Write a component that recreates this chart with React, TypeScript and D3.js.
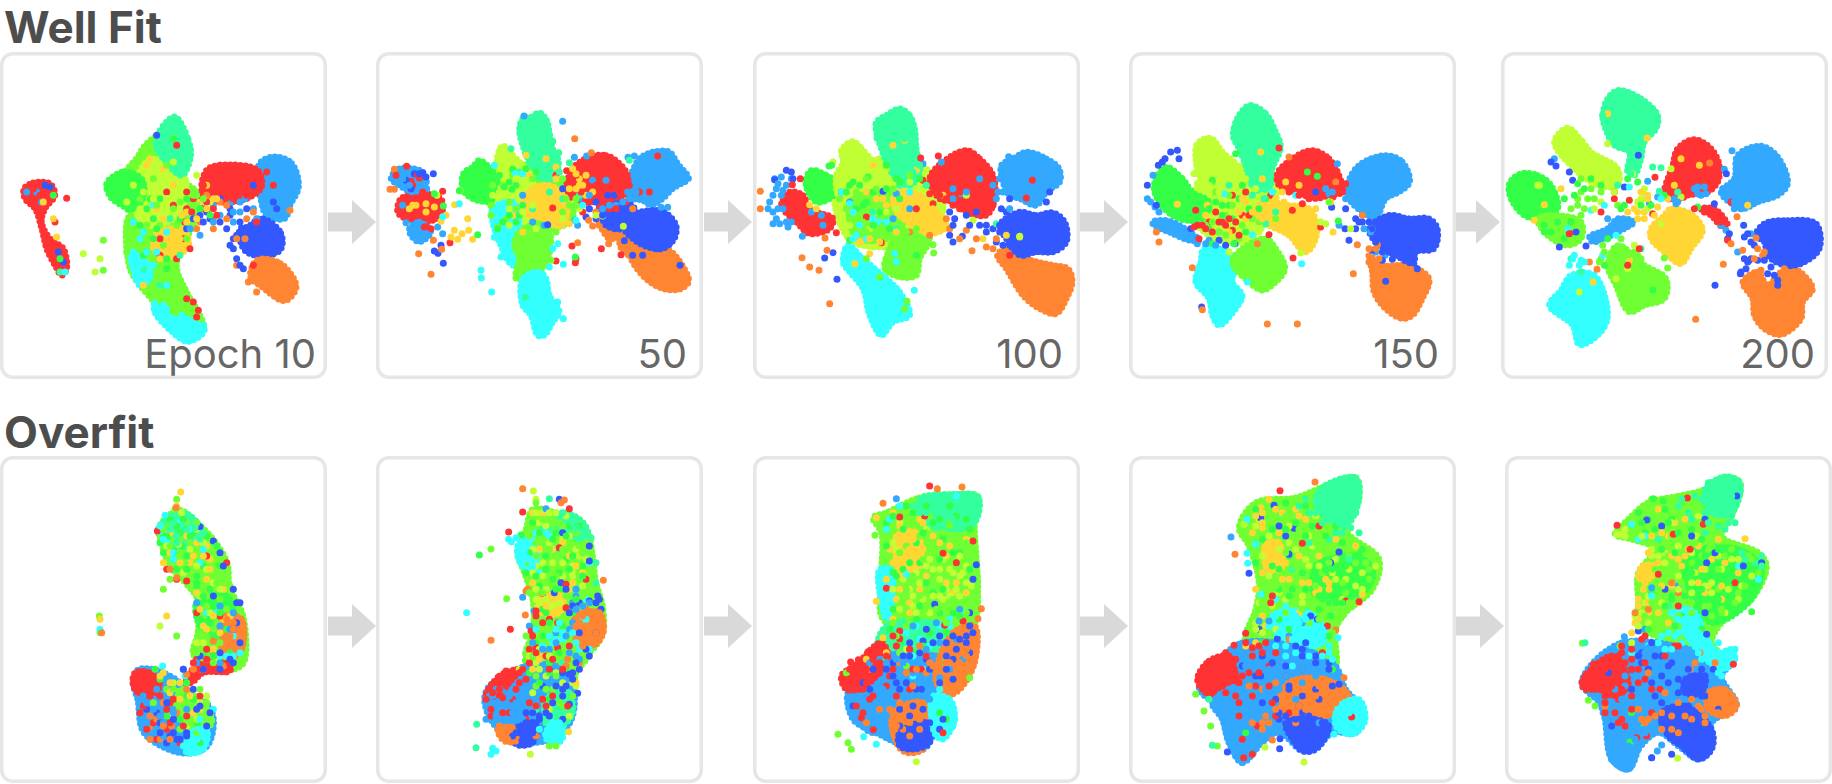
import React from "react";
import * as d3 from "d3";

// class colours
const classColors = ["#ff3333","#ff8533","#ffd633","#bfff33","#6fff33","#33ff47","#33ff9e","#33ffff","#33a8ff","#3358ff"];
const [R,O,G,Y,L,N,S,C,K,B] = [0,1,2,3,4,5,6,7,8,9];

const rowTitles = ["Well Fit","Overfit"];
const wellFitLabels = ["Epoch 10","50","100","150","200"];
const overfitLabels = ["","","","",""];
const labelRight = [316,311,310,310,314];
const rowTops = [52,456];
const rowLefts = [[0,376,753,1129,1501],[0,376,753,1129,1505]];
const arrowStarts = [[328,704,1080,1456],[328,704,1080,1456]];
const arrowTips = [[376,752,1128,1500],[376,752,1128,1504]];

// Outlines of the dense clusters, and the scattered points (panel units 0-981)
const wf10Blobs = [
 [R,[72,410,100,392,150,395,165,430,135,470,125,510,150,560,190,590,200,650,185,670,165,640,140,590,125,530,105,470,75,440]],
 [L,[441,274,500,240,530,294,551,384,600,430,592,490,560,560,530,640,560,720,600,790,612,835,560,860,510,830,470,760,420,700,390,650,380,510,400,464,372,374,413,314]],
 [Y,[440,330,530,330,560,420,520,500,440,520,400,450]],
 [S,[524,194,565,264,572,314,545,370,490,320,469,284,475,244]],
 [K,[827,314,875,334,896,404,870,460,854,500,800,490,785,454,779,334]],
 [R,[620,354,661,339,772,354,785,404,740,440,660,450,634,434,606,414]],
 [B,[785,499,843,544,841,594,785,612,740,600,723,574,720,530,744,524]],
 [O,[772,624,841,634,889,704,860,745,841,744,785,704,751,674]],
 [N,[320,394,372,359,427,384,427,444,390,474,372,464,331,434]],
 [C,[469,744,551,794,613,834,565,869,510,834,462,774]],
 [C,[393,604,441,634,450,680,420,700,400,654]],
 [G,[469,544,551,534,565,584,510,614,462,594]],
 [L,[455,704,524,674,565,774,530,784]],
];
const wf10Dots = [
 [K,[600,450,640,460,690,455,735,440,760,470,800,470,770,500,720,480,660,490,700,510,110,420,125,450,80,420,840,480]],
 [B,[150,405,135,400,175,600,190,630,620,480,660,440,690,470,720,510,680,530,740,470,700,590,710,620,730,650,760,400,830,470,820,450,470,250,600,490,560,530]],
 [R,[200,439,100,410,120,430,90,440,150,590,170,620,165,510,580,440,610,470,640,470,670,420,560,470,590,500,555,510,550,560,570,590,530,620,520,460,500,420,560,740,580,750,595,775,590,795,480,560,480,610,530,280,640,370,700,400,740,430,800,360,820,400,770,510,760,640]],
 [O,[870,475,770,720,745,690,640,500,680,460,710,640,735,560,600,510,660,450]],
 [G,[130,450,160,500,170,555,490,350,520,400,450,320,510,560,560,480,620,400,600,450,650,440,480,620,430,700,440,340]],
 [Y,[285,660,250,605,300,620,590,370,630,450,500,480,460,420,420,500,560,430]],
 [L,[310,565,310,655,440,520,480,520,520,470,470,650,440,570,400,560,420,440,460,380,500,340,590,460,380,600,505,730,580,430]],
 [N,[160,430,180,620,520,260,430,610,460,500,500,650,420,520,540,500,450,440]],
 [S,[540,360,490,300,540,610,430,650,480,700,180,660,510,500,560,340]],
 [C,[195,660,610,820,420,560,460,460,400,510,460,640,430,540,490,760,500,540]],
];
const wf10DotsB = [
 [R,[610,400,640,420,680,400,720,410,660,370,700,370,750,380,620,450,650,490,700,440,560,420,600,430,575,480]],
 [B,[630,500,660,510,610,510,580,500,690,490,710,550,700,560,690,580,720,640]],
 [G,[590,500,620,470,640,440,545,490,520,530,540,560,560,510,490,500,470,470]],
 [O,[620,430,590,530,640,530,680,500,710,560,760,480,740,500]],
 [L,[590,430,610,440,540,450,560,560,530,520,490,580,470,460]],
 [N,[560,440,600,470,630,490,500,620,470,530,460,560,440,470,480,440]],
 [K,[720,450,640,510,570,530,700,480,600,550]],
 [Y,[380,450,420,470,460,440,520,330,470,350,430,420,480,400,500,440,400,400]],
 [C,[420,640,440,600,400,600,470,600,500,700,520,810,545,790,500,770]],
];
const wf50Blobs = [
 [L,[330,380,470,340,560,400,590,500,500,540,430,560,360,490]],
 [S,[490,182,512,205,520,240,530,290,548,330,530,380,480,370,455,320,440,280,430,235,440,200,465,195]],
 [K,[790,320,830,300,880,300,905,335,938,380,915,395,890,410,860,440,825,460,800,445,770,440,745,420,760,380,775,345]],
 [R,[640,315,690,310,725,330,755,370,750,420,720,450,690,460,650,450,600,460,570,420,590,350]],
 [O,[760,600,790,550,840,590,880,595,925,650,938,690,910,712,860,710,810,680,770,630]],
 [O,[665,510,690,510,735,550,700,560,680,535]],
 [O,[730,575,760,550,800,580,790,610,760,610]],
 [B,[680,480,750,450,780,480,740,530,690,520]],
 [B,[820,475,865,480,900,520,895,560,860,590,815,585,770,560,745,530,760,495]],
 [N,[310,325,345,350,380,380,410,410,380,440,340,450,290,440,262,415,262,365,290,345]],
 [Y,[380,280,400,300,440,340,470,380,450,430,400,420,380,380,362,330]],
 [Y,[380,400,470,390,470,510,420,530,370,490]],
 [C,[350,470,410,450,430,510,410,570,440,620,410,640,370,570,350,510]],
 [L,[470,520,520,540,520,600,500,650,470,670,450,690,420,670,430,620,415,580,430,540]],
 [C,[440,680,490,660,510,680,520,730,550,780,530,810,505,850,485,850,465,790,440,760]],
 [G,[470,410,520,400,570,440,570,500,550,525,500,500,450,480,440,450]],
 [R,[75,440,130,425,195,440,195,490,150,510,90,500,65,480]],
 [K,[45,380,70,350,140,360,150,400,110,420,70,400]],
 [K,[100,530,130,510,165,540,130,570,105,550]],
];
const wf50Dots = [
 [K,[444,192,560,208,756,316,775,312,595,316,632,312,152,410,80,460,90,512,185,525,200,545,440,430,855,466,875,466,650,385,690,385,610,440,640,470,720,460,755,420,505,520,597,505,605,520,470,510]],
 [B,[172,365,140,362,115,365,195,580,175,597,186,604,202,634,912,640,560,410,630,495,660,500,695,430,715,430,700,510,730,500,770,610,800,610,840,590,880,575,745,566,515,518,670,470,730,470]],
 [R,[92,343,130,378,105,388,200,418,125,370,845,312,572,356,676,590,735,608,600,620,598,632,540,627,530,468,540,370,620,480,730,420,660,400,640,440,222,572,150,525,175,500,790,420,820,420,588,582,700,470]],
 [O,[596,260,646,302,42,412,55,412,55,352,128,605,165,667,172,565,197,592,650,522,638,505,698,575,605,572,660,480,770,470]],
 [G,[236,458,275,500,278,535,258,545,235,535,225,555,245,562,290,562,210,490,195,508,175,465,150,455,110,460,460,370,510,320,540,380,450,310,580,515,540,345,610,380,590,350,630,430,620,400,410,490,460,490,440,540]],
 [Y,[252,416,183,430,742,523,480,530,400,470,385,430,610,470,590,455,660,490,680,492,440,400,350,430]],
 [L,[345,460,380,400,410,370,520,600,420,678,525,625,345,490,390,500,580,460,540,540,365,525,460,540,445,575,600,460]],
 [N,[250,416,305,548,202,462,175,425,408,412,385,405,430,490,400,490,365,530,598,615,530,268,410,352,370,370]],
 [S,[548,302,528,268,490,300,405,290,520,420,430,360,580,332,760,325,560,440,610,430,550,360,470,470,448,736]],
 [C,[250,455,200,494,355,556,347,720,315,655,316,678,520,645,562,637,545,575,530,590,545,750,562,800,440,365,418,365,385,605,375,615,600,505,620,460,355,340]],
];
const wf50DotsB = [
 [R,[590,390,615,420,600,370,640,450,670,460,700,450,720,470,750,450,760,400,140,420,110,400,60,370,165,530,145,525]],
 [B,[660,450,680,490,720,500,740,490,640,470,130,365,150,375,90,385,105,410]],
 [G,[610,400,630,370,650,420,600,410,600,365,580,410,120,460,150,480,100,470]],
 [K,[640,430,680,470,700,460,760,440,740,450,780,420,100,400,80,380,130,545,150,545]],
 [L,[600,440,570,440,560,380,350,400,400,450,420,470,470,380,560,480]],
 [N,[420,400,450,350,400,390,440,460,380,510,420,510,480,360]],
 [Y,[440,480,400,520,420,380,560,500,470,460]],
];
const wf100Blobs = [
 [Y,[250,400,380,320,520,350,570,480,480,570,300,570,250,480]],
 [S,[440,170,470,190,485,230,490,290,500,360,470,400,420,370,385,290,370,240,370,210,400,190]],
 [K,[820,300,880,320,918,350,920,390,880,420,850,460,800,440,770,430,750,390,745,340,780,320]],
 [R,[640,295,680,320,720,370,725,440,700,490,640,480,600,450,560,440,530,380,570,330]],
 [O,[760,590,820,620,900,640,945,650,958,690,940,740,910,785,860,770,810,730,760,650,733,610]],
 [B,[800,480,850,490,900,482,935,510,940,570,900,600,850,600,800,610,760,560,740,520]],
 [C,[285,580,330,620,400,680,440,720,470,790,420,810,385,850,350,790,330,710,290,660,270,630]],
 [L,[430,550,490,540,530,560,500,620,490,670,440,675,395,650,410,590]],
 [N,[175,355,220,370,260,400,230,440,190,450,158,395]],
 [Y,[300,268,325,290,370,340,410,390,380,440,320,470,260,440,250,370,270,330,265,295]],
 [L,[300,440,420,430,450,520,400,560,320,560,290,510]],
 [G,[440,420,500,430,560,490,580,525,530,545,480,520,430,480,420,440]],
 [R,[110,420,150,430,170,470,240,500,230,530,170,545,130,510,85,460]],
];
const wf100Dots = [
 [K,[65,380,85,375,70,410,85,430,50,450,45,470,60,480,60,515,80,515,105,525,115,380,100,400,148,553,175,480,205,490,210,520,767,314,740,380,760,395,735,420,720,400,600,410,625,425,680,380,565,330,510,335,420,500,430,425,470,470,290,450,265,420]],
 [B,[100,355,115,360,65,383,120,380,240,602,215,618,252,682,590,480,605,500,590,550,600,570,628,553,680,520,700,540,720,530,750,580,730,570,890,420,880,450,770,440,760,480,745,470,670,480,390,418,640,490]],
 [R,[118,398,142,380,250,542,503,318,556,312,510,385,540,400,530,425,540,455,838,385,820,438,770,610,340,495,385,572,490,470,610,350,650,450,700,480,620,420]],
 [O,[22,418,22,470,147,617,170,645,198,655,230,755,222,595,216,558,657,596,640,535,700,585,590,530,880,670,770,640,530,550,470,540]],
 [G,[170,458,190,470,300,480,325,568,350,605,305,635,420,280,455,265,490,355,360,340,390,440,540,470,570,430,690,560,800,555,760,550,340,420]],
 [Y,[640,430,660,505,800,553,330,370,400,350,470,390,350,530,365,480,430,470,290,520,400,480,240,330]],
 [L,[462,748,455,770,540,578,542,603,490,610,380,675,260,440,340,540,300,540,400,540,460,540,490,530,340,620]],
 [N,[236,340,228,342,290,400,490,610,345,375,400,340,330,460,290,565,310,470,360,520,430,380,410,530]],
 [S,[372,258,455,260,430,330,440,400,500,340,480,360,360,480,430,530,730,515,520,400]],
 [C,[484,715,266,420,290,455,425,605,430,630,380,510,340,560,310,550,470,420]],
];
const wf100DotsB = [
 [K,[60,430,75,470,90,470,70,500,100,510,115,510,75,395,90,415,640,420,600,440,750,420,730,440,770,470]],
 [B,[600,520,650,520,700,520,740,540,780,540,770,580,740,520]],
 [R,[560,430,600,460,650,470,690,470,620,470,580,440,550,420,720,460,700,450]],
 [N,[320,400,360,420,400,410,440,390,300,390,280,420,340,450,380,480,440,440,500,380]],
 [L,[340,380,370,410,420,410,470,370,330,510,390,520,310,420,280,470]],
 [G,[370,440,400,460,460,440,430,540,380,570,350,560,320,570,300,560]],
 [O,[580,500,620,560,670,560,730,560,720,590]],
 [C,[300,480,320,520,360,500,400,510,300,560]],
];
const wf150Blobs = [
 [Y,[200,410,350,340,440,400,420,500,340,570,260,560,200,510]],
 [S,[362,160,410,185,440,240,455,285,430,350,420,410,370,400,350,340,330,290,312,250,330,190]],
 [K,[770,310,820,330,842,390,810,420,770,440,740,500,700,480,660,440,655,400,690,340]],
 [R,[550,295,600,320,630,370,640,420,600,430,560,440,500,420,450,400,445,365,490,320]],
 [Y,[245,258,280,300,330,350,320,400,280,430,240,430,210,370,200,320,205,275]],
 [N,[110,345,160,380,190,420,240,450,220,500,170,505,130,490,90,450,75,400]],
 [G,[400,450,480,460,540,470,565,530,545,590,525,600,480,550,420,520,380,490]],
 [O,[720,610,760,640,840,640,900,680,880,740,850,790,820,800,770,770,735,720,730,660]],
 [B,[780,490,840,500,900,500,925,530,915,590,860,600,855,635,800,610,750,580,720,530]],
 [C,[225,590,300,600,320,640,310,690,340,730,320,770,270,820,250,790,240,740,200,690,215,630]],
 [L,[340,590,410,560,440,590,468,650,440,690,400,715,360,690,310,630]],
 [K,[70,510,110,505,160,525,210,565,180,565,120,540,75,520]],
];
const wf150Dots = [
 [K,[55,440,65,450,72,370,78,465,90,480,190,560,205,575,240,565,600,425,625,335,650,440,660,420,700,470,720,440,730,470,705,530,725,540,768,610,740,600,630,520]],
 [B,[145,295,125,300,150,320,108,320,100,330,88,340,55,400,82,460,185,530,270,565,290,580,318,575,650,470,648,530,660,565,680,530,690,510,720,510,730,595,760,625,790,622,770,688,608,466,218,765,865,650,560,420]],
 [R,[205,520,195,525,240,510,260,480,290,520,310,535,340,490,350,420,210,560,280,510,200,475,575,525,492,618,450,288,520,455,650,395,640,420,612,435,490,475,420,548,310,430,425,430]],
 [O,[190,647,220,773,415,816,505,816,673,665,82,540,90,570,685,578,745,578,700,490,480,315,620,390,385,575]],
 [G,[465,450,400,380,395,300,145,457,235,460,510,400,470,390,230,490,605,450,612,540,300,540,560,470,350,500]],
 [Y,[195,365,205,395,575,510,590,515,515,603,665,530,390,540,255,430,330,460,440,480,300,600,360,530]],
 [L,[250,390,300,430,340,520,418,626,320,620,290,490,440,500,250,510,600,450]],
 [N,[535,360,565,373,320,305,628,507,250,385,280,460,360,470,240,530,315,575,410,440,250,575]],
 [S,[360,325,385,415,405,440,440,480,730,530,300,400,370,430,410,515]],
 [C,[518,635,285,425,270,540,370,548,355,690,250,595,430,420,500,430]],
];
const wf150DotsB = [
 [N,[220,440,260,450,300,460,330,440,280,490,310,500,350,540,240,470,390,470,340,400]],
 [L,[260,420,310,460,370,500,290,550,230,520,270,540,330,560,390,510]],
 [R,[230,530,270,510,300,500,320,510,330,550,360,490,220,520,250,540,510,430,480,420,540,440,620,410]],
 [K,[100,510,120,520,150,530,170,545,260,580,230,575,610,420,590,410]],
 [G,[330,480,350,450,370,480,440,440,460,420,400,500,340,440]],
 [Y,[300,380,350,380,380,410,270,420,240,400]],
 [O,[720,590,740,590,720,630,750,620]],
 [B,[700,510,680,500,730,530,740,570,760,600,780,600]],
];
const wf200Blobs = [
 [S,[350,115,420,140,470,190,465,230,430,270,420,320,400,370,380,360,385,300,340,280,310,220,305,190,320,140]],
 [K,[780,282,830,315,860,395,830,430,770,450,730,470,700,460,660,420,700,380,710,310]],
 [R,[580,262,630,290,655,340,650,390,620,420,560,430,540,440,490,435,515,340,530,290]],
 [R,[600,470,640,470,680,520,665,525,630,490]],
 [O,[725,690,770,660,800,700,840,660,880,650,935,710,905,750,900,800,840,848,790,830,760,790,755,740]],
 [B,[790,515,860,505,945,515,955,590,900,635,850,640,800,610,790,570,765,550]],
 [Y,[200,228,245,270,270,300,350,350,350,400,290,400,220,350,160,270]],
 [N,[60,365,110,370,150,400,170,470,120,500,70,490,30,440,25,395]],
 [L,[110,500,170,490,240,510,240,560,200,580,140,550]],
 [G,[510,470,575,490,605,535,570,590,540,635,490,600,450,560,450,530,490,490]],
 [L,[350,580,430,640,495,680,490,740,430,760,385,780,345,700,320,640]],
 [C,[210,670,280,670,320,795,290,850,235,878,215,820,145,760,180,715]],
 [K,[265,555,320,530,350,500,400,510,370,530,310,560,275,570]],
];
const wf200Dots = [
 [K,[693,296,670,352,665,410,720,470,700,470,590,405,610,405,600,430,520,440,525,455,660,520,675,535,710,600,160,320,750,545,440,388,445,455,470,435,320,500]],
 [B,[150,330,165,342,205,360,215,385,175,585,255,582,412,310,370,405,225,540,740,545,730,555,750,570,730,620,745,625,770,625,810,645,800,665,718,665,735,650,830,685,642,700,728,520,685,545,680,560,640,455,676,365]],
 [R,[462,376,625,333,690,450,680,565,205,543,300,480,340,420,385,445,455,485,340,440]],
 [O,[584,802,667,637,708,494,265,630,288,652,785,610,765,558,725,595,690,575,780,655,626,333,850,650]],
 [G,[438,258,320,185,100,505,180,410,130,458,440,430,425,420,410,480,500,440,520,400,470,465,276,690,540,320,595,340,740,460,385,625,430,480,490,510]],
 [Y,[320,275,540,435,235,720,430,410,395,365,110,400,115,400,260,380,310,360,480,515,345,680,510,350]],
 [L,[200,560,150,520,490,618,500,648,300,620,340,600,380,610,410,610,305,580,360,560,120,510,230,440,210,470,240,420,280,440,350,460]],
 [N,[455,714,190,440,130,540,220,430,270,380,310,640,380,380,370,460,230,395,490,430,590,465,320,560,410,390]],
 [S,[455,345,480,347,305,190,390,365,210,620,240,660,530,420,475,418,350,400,420,590]],
 [C,[345,550,385,405,270,475,200,530,215,620,240,625,305,610]],
];
const wf200DotsB = [
 [L,[240,380,270,410,300,420,260,440,230,460,350,590,370,590,400,600,420,620,440,650,310,600,330,620,295,630,360,640,220,520,240,490,250,470,180,530,160,540,200,510]],
 [Y,[230,340,290,380,320,380,340,420,300,450,280,470,400,580,380,650,420,440,440,470,410,450,430,440]],
 [N,[210,510,170,510,190,560,150,540,130,520,250,410,300,400,420,460,360,470,450,460]],
 [K,[590,425,615,425,580,410,700,450,680,420,530,450,290,550,340,520,385,515]],
 [G,[420,420,440,440,400,470,460,490,430,500,380,480,410,500,490,500]],
 [C,[220,610,235,640,250,630,205,640,310,460,480,440]],
 [R,[580,470,610,480,650,500,660,510,415,590,205,545,380,640]],
 [B,[740,630,720,660,760,580,750,620,790,625,830,700,820,670]],
 [O,[770,590,790,600,760,620]],
];

const of10Blobs = [
 [L,[537,162,593,202,641,252,682,322,689,392,730,482,730,622,689,642,606,622,579,592,593,532,593,432,558,382,510,332,482,252,475,217]],
 [S,[500,190,550,170,600,215,570,270,510,260]],
 [N,[590,440,680,420,700,520,640,540,600,510]],
 [O,[670,480,725,490,720,590,680,600,660,550]],
 [R,[555,680,590,630,690,625,690,645,610,650,575,680]],
 [K,[413,642,469,642,551,692,551,727,620,742,641,792,620,872,551,892,469,862,427,822,413,732,400,682]],
 [L,[540,700,610,740,635,800,590,830,540,770]],
 [R,[405,650,450,650,480,690,430,720,400,690]],
 [C,[570,830,620,820,610,880,560,890]],
];
const of10Dots = [
 [L,[530,130,525,160,500,210,520,250,560,200,570,260,540,300,600,290,580,340,610,370,640,350,620,420,660,430,690,390,610,480,650,500,680,460,620,540,600,570,660,560,570,770,590,830,620,780,500,700,520,740,300,530,298,480,490,400,510,370,530,540,640,300]],
 [N,[510,190,540,230,580,230,490,290,520,280,560,300,610,330,590,380,630,400,660,330,640,440,600,450,650,540,680,520,690,590,610,600,600,640,560,720,540,790,590,800,600,860,480,670,465,640,590,390,530,340,545,270,490,240]],
 [G,[542,108,530,150,560,240,590,260,510,230,630,310,590,410,620,370,670,400,610,510,670,490,640,580,690,480,510,710,540,680,510,780,600,760,500,480,300,490,490,650,580,770,570,320,620,270]],
 [C,[495,178,478,227,540,200,570,220,600,320,520,310,500,260,650,470,700,540,680,600,720,590,620,470,555,660,600,820,580,860,620,830,600,880,640,760,300,520,488,630]],
 [Y,[545,170,590,220,535,265,570,280,610,260,590,330,550,350,620,340,640,380,600,420,630,470,660,400,610,560,650,610,590,560,520,680,600,740,590,790,480,510,500,270,560,810,620,720]],
 [R,[472,225,500,340,530,370,560,375,620,300,680,320,660,480,590,470,620,580,640,600,590,610,600,640,420,660,440,680,430,700,480,720,510,740,460,800,420,770,500,820,540,860,600,720,560,780,470,850,460,690,520,730]],
 [O,[528,155,510,340,530,365,640,555,680,490,700,560,670,630,580,640,560,655,610,640,470,790,480,850,450,820,490,740,515,810,530,770,305,530,560,700]],
 [K,[590,440,660,450,690,520,660,620,590,620,550,640,470,760,430,720,520,790,450,770,490,760,560,760,490,840]],
 [B,[600,212,640,255,660,290,670,330,640,420,700,400,720,440,710,500,720,560,700,620,660,640,600,600,550,640,480,800,520,830,500,860,540,850,560,840,440,760,470,770,600,750,630,770,580,700,620,810]],
];
const of10DotsB = [
 [L,[490,220,540,250,510,270,590,200,555,320,600,350,650,380,670,370,620,450,640,520,600,530,590,590,640,620,520,700,540,740,600,700,620,740,570,800,460,740,540,820]],
 [N,[480,260,500,240,530,210,550,190,570,240,620,240,650,270,560,340,590,360,610,420,660,470,600,490,640,600,560,680,580,730,500,780]],
 [S,[510,220,530,260,560,220,585,215,610,230,490,200,520,200,550,210,600,250,530,240]],
 [G,[510,290,490,320,540,320,580,300,610,300,630,340,600,460,640,480,620,520,660,530,510,680,540,730,570,720,480,660]],
 [C,[490,250,520,290,480,210,610,280,620,610,660,600,700,600,600,790,620,850,570,880,550,870,590,850]],
 [R,[420,690,445,700,410,670,450,720,430,750,470,710,500,760,480,780,440,820,510,800,550,810,620,610,580,620]],
 [B,[510,840,530,850,480,830,520,790,500,740,560,830,590,760,610,640,690,610,660,590,700,520,710,440]],
 [K,[440,740,460,760,430,790,460,830,490,800,520,770,470,700,420,730,480,780,700,470,660,510]],
 [O,[700,500,690,540,700,520,680,570,450,780,490,810,510,850,450,850]],
];
const of50Blobs = [
 [L,[470,160,540,170,610,190,635,225,650,300,660,380,680,450,680,530,640,590,590,610,560,610,450,600,470,530,470,430,445,350,425,290,450,220]],
 [S,[560,170,610,190,635,230,600,250,550,210]],
 [C,[430,260,470,250,480,330,450,340,425,300]],
 [G,[490,430,560,420,550,470,490,470]],
 [O,[600,480,670,470,682,530,650,570,600,540]],
 [L,[455,590,640,590,600,650,590,700,460,660]],
 [K,[390,660,450,630,540,630,590,690,590,780,550,840,480,860,420,860,350,800,325,730,340,690]],
 [S,[510,730,570,700,590,770,540,820,510,790]],
 [R,[330,720,370,660,430,640,400,680,360,720]],
 [B,[410,825,480,800,470,860,420,865]],
 [O,[365,820,410,815,420,855,385,855]],
 [C,[510,825,560,815,555,855,515,855]],
];
const of50Dots = [
 [Y,[472,105,480,130,500,170,490,200,540,170,570,180,520,260,470,280,560,250,600,280,630,310,590,330,500,320,480,330,560,360,590,350,570,400,510,400,480,430,520,450,560,550,490,600,480,620,430,640,540,650,470,710,590,680,600,690,520,760,580,780,463,895]],
 [L,[480,140,520,190,460,240,500,250,560,210,600,230,610,270,540,300,480,300,450,320,530,340,600,360,460,380,510,380,640,360,590,430,500,490,520,590,470,560,560,490,530,580,480,660,530,700,560,750,345,279,392,428,520,870,540,870,540,660,560,720]],
 [N,[435,237,310,297,470,200,540,230,580,210,610,210,460,290,510,300,570,310,620,330,550,350,490,390,600,400,470,510,510,470,560,510,500,460,590,470,560,400,480,560,520,620,460,650,500,690,520,730,570,640]],
 [S,[520,128,590,200,600,215,645,245,560,170,520,220,500,220,660,380,660,320,302,805,540,280,560,620,580,760,300,875,510,800,530,780,480,760]],
 [C,[398,250,406,258,420,245,440,260,430,280,435,300,450,300,490,350,510,230,520,240,480,230,440,320,640,320,600,400,630,430,272,470,350,877,360,885,345,895,560,550,540,550,530,830,540,850,550,820,520,810,620,490,640,580]],
 [G,[470,170,500,180,490,280,530,280,580,300,600,330,470,380,500,420,580,400,510,450,490,610,500,600,470,640,600,680,578,827,590,380,560,260,620,350]],
 [K,[510,158,600,400,600,420,590,440,580,520,440,424,474,465,460,510,600,600,520,580,540,530,410,700,390,720,400,750,360,760,430,760,330,790,370,740,350,720,420,790]],
 [B,[550,130,560,230,640,270,640,315,555,380,535,410,665,420,675,460,610,440,590,450,640,435,660,530,640,600,610,640,580,655,605,712,590,650,560,700,560,720,580,745,540,690,500,690,470,770,450,770,490,790,450,830,430,830,450,850,480,820,560,790]],
 [R,[440,168,398,228,580,158,550,275,630,370,570,385,500,412,570,455,480,465,520,490,545,500,465,525,460,580,480,575,510,600,545,575,580,570,460,620,390,645,375,670,430,680,360,700,340,700,380,725,410,730,345,780,400,770,450,790,480,750,530,720,510,750,575,750,403,520,440,640]],
 [O,[440,98,555,140,565,132,682,373,450,405,455,400,448,477,345,553,610,620,640,490,660,500,620,530,640,510,670,470,630,460,600,550,600,530,625,540,570,630,375,825,390,840,410,850,480,840,575,610]],
];
const of50DotsB = [
 [Y,[480,170,520,170,510,210,580,240,610,300,530,320,470,350,560,320,500,360,620,390,480,400,550,440,590,360,510,430,490,440,530,450,520,600,490,640,460,600,510,660,490,580,560,680]],
 [L,[500,190,550,200,590,260,520,280,480,260,560,280,620,290,640,340,540,360,500,410,460,410,570,420,620,420,610,370,480,500,500,520,450,540,470,600,510,700,480,690,550,740,590,720]],
 [N,[490,230,530,250,570,240,590,300,510,340,450,350,580,340,620,360,540,400,480,360,530,370,600,430,520,500,500,540,550,590,490,680,520,650]],
 [C,[445,280,460,310,470,330,550,500,520,540,480,520,540,520,560,530,590,530,600,560,610,580,630,490,530,560,500,570,550,800,530,800,490,820]],
 [K,[470,560,540,560,500,580,590,500,600,460,620,450,640,440,570,540,580,590,610,610,360,700,380,700,340,720,360,780,390,790,410,770,440,790,400,720,420,740]],
 [B,[570,400,580,470,660,440,670,430,610,530,630,580,600,620,560,650,590,670,570,690,530,740,490,780,510,770,470,800,520,780,440,810,420,830,450,800,410,840,470,830]],
 [R,[480,480,500,500,470,540,480,590,530,610,520,640,430,650,450,670,410,660,390,690,370,700,350,710,330,730,345,760,380,770,420,700,460,740,500,730,560,640]],
 [O,[620,480,650,480,670,500,660,530,640,540,620,570,600,510,610,500,370,810,395,850,400,820]],
];
const of100Blobs = [
 [L,[400,170,500,125,600,115,675,122,665,190,670,300,675,400,665,500,625,520,480,520,390,490,385,360,385,230,360,185]],
 [S,[500,130,600,115,675,122,665,200,600,220,520,200]],
 [G,[430,240,490,230,500,330,440,340]],
 [C,[380,340,412,340,420,420,400,490,385,440]],
 [S,[400,510,530,500,590,520,560,600,540,660,400,640,370,590]],
 [K,[290,700,400,600,560,600,660,620,590,720,540,840,510,880,430,860,370,830,300,790]],
 [O,[555,620,600,530,665,510,665,620,620,700,590,715,550,680]],
 [K,[290,700,420,680,430,760,390,825,355,830,310,790,285,750]],
 [O,[420,770,510,740,530,820,510,880,460,890,430,860]],
 [B,[440,830,520,800,530,860,480,880,440,870]],
 [R,[265,660,310,625,385,560,405,600,370,660,320,700,280,700]],
 [C,[540,720,590,730,605,790,570,850,550,840,535,790]],
];
const of100Dots = [
 [G,[370,185,420,170,500,190,430,245,470,240,440,310,480,300,460,340,510,280,590,270,540,240,610,380,430,430,500,400,640,410,470,470,420,490,390,545,400,590,340,610,520,360,370,436,580,300,640,250]],
 [Y,[490,350,560,340,430,280,530,310,570,310,600,350,580,400,620,360,640,330,450,370,480,420,440,200,510,430,570,430,490,470,530,470,620,420,520,220,460,580,490,917,560,420,655,390]],
 [L,[410,260,440,180,530,180,520,230,590,200,600,240,460,270,550,280,410,300,480,360,430,400,540,370,600,320,660,350,515,460,580,460,445,440,460,510,650,290,400,310,640,450,366,238,280,650,255,835,285,860,295,880,650,665,500,700,440,590,395,610]],
 [N,[400,200,460,150,520,150,590,150,540,200,640,190,420,350,490,260,570,250,620,290,500,320,450,340,540,410,420,460,490,490,560,470,600,470,530,530,580,530,440,560,490,590,560,770,580,790,570,620,650,340]],
 [C,[440,150,400,220,410,190,610,120,460,355,410,380,400,400,560,510,590,510,490,510,460,530,500,550,530,570,450,600,480,600,510,640,560,700,540,740,590,760,605,790,332,842,370,865,590,490,630,470,560,720,480,660,600,810]],
 [K,[430,128,480,510,550,500,620,460,560,560,510,600,470,580,480,650,440,640,400,650,510,690,530,730,420,720,450,700,340,740,320,770,370,790,400,780,360,700,610,550,590,640,560,665,630,610]],
 [B,[670,326,545,445,660,370,650,470,650,510,620,550,600,540,640,560,650,590,600,610,580,640,600,670,520,520,510,555,470,560,520,610,450,600,420,620,490,700,460,680,430,680,330,680,300,750,350,700,440,760,470,780,505,700,510,760,480,750,530,800,440,850,560,680,570,790,460,860,560,820]],
 [R,[530,90,440,183,570,292,660,255,400,397,515,180,610,320,440,525,440,548,430,570,470,580,575,508,630,495,345,587,293,618,316,611,480,640,410,660,380,650,400,690,340,680,360,720,310,750,325,785,361,821,470,700,430,720,570,830,520,600,505,640]],
 [O,[390,142,553,98,627,93,685,458,675,488,350,640,440,620,490,640,540,600,520,650,480,690,440,740,410,760,460,760,470,800,450,820,500,790,610,650,640,600,620,580,560,620,590,570,610,690,380,760,340,800]],
];
const of100DotsB = [
 [G,[440,210,470,280,440,360,410,280,420,320,450,300,480,250,500,290,400,370,440,400,470,440,580,380,600,410,510,200,560,260]],
 [Y,[520,330,540,340,590,340,560,370,590,420,630,350,610,400,500,380,470,400,420,400,440,460,540,420,620,300,420,260,640,380,480,450]],
 [L,[420,210,470,200,500,240,540,260,570,230,640,260,440,290,510,310,460,400,500,420,550,460,600,430,640,470,420,500,470,490,580,500,430,540,460,630,590,210]],
 [N,[420,180,480,170,450,220,510,230,560,190,610,180,650,220,400,270,470,320,560,310,430,360,520,380,600,290,570,400,500,450,620,480,410,520,510,570]],
 [S,[480,150,500,170,540,150,620,140,650,160,600,190,580,180,660,140,560,130,640,130,520,170,610,160]],
 [K,[520,580,540,600,490,620,450,620,430,610,400,620,380,610,350,620,500,660,530,680,350,770,380,730,410,740,390,700,330,730,300,700]],
 [B,[470,600,500,590,540,560,560,540,610,580,640,540,660,530,580,560,400,640,360,640,420,660,440,700,530,640,580,600,490,830,520,850,470,870,440,810,470,820,490,860]],
 [R,[420,540,400,600,360,600,300,660,280,680,270,670,290,640,320,640,360,610,340,640,380,620,420,640,330,700,300,700,280,690,330,770,350,730]],
 [O,[500,570,540,630,460,650,530,620,580,620,620,620,640,640,610,640,590,620,640,580,430,810,470,840,500,820]],
];
const of150Blobs = [
 [L,[380,140,500,125,590,90,680,65,690,130,650,220,750,310,730,400,650,470,620,520,615,640,480,640,350,560,380,460,390,380,360,270,330,215]],
 [S,[580,95,680,65,690,130,650,210,600,190,560,140]],
 [G,[410,265,450,260,455,340,415,340]],
 [N,[560,330,680,300,730,340,720,390,640,430,560,420]],
 [C,[430,480,540,470,590,530,580,560,470,570]],
 [K,[220,680,340,560,610,620,650,700,700,760,680,830,610,830,560,880,520,885,450,830,400,860,340,920,300,860,270,760,210,700]],
 [R,[205,670,240,615,300,600,320,650,330,700,280,730,230,710]],
 [K,[250,740,330,690,390,720,380,840,340,920,300,860,280,790]],
 [O,[480,680,590,670,660,720,630,760,540,790,450,760]],
 [B,[470,800,560,790,600,810,560,880,520,885,490,850]],
 [C,[630,750,690,730,708,795,670,835,620,810]],
];
const of150Dots = [
 [G,[395,155,420,130,510,180,400,215,450,230,425,300,440,270,420,330,510,300,570,300,600,380,540,380,480,370,570,400,510,470,400,480,380,560,350,570,410,510,620,250,460,170,680,270,700,415,690,440]],
 [Y,[345,205,390,190,480,260,550,270,620,310,650,370,700,350,740,330,680,390,640,430,520,420,450,410,420,360,400,300,540,330,430,450,390,440,610,350,525,918,408,874,380,500,560,180]],
 [L,[410,165,370,190,470,200,500,240,440,200,560,240,600,290,580,350,660,300,710,320,720,370,650,410,560,430,480,340,400,400,420,400,640,480,600,500,540,500,670,451,200,715,225,765,245,810,265,870,440,360,600,600]],
 [N,[380,160,470,140,530,150,550,210,620,210,480,300,450,340,520,350,590,340,640,340,690,295,700,280,490,400,570,460,620,440,450,400,380,320,605,480,480,520,450,490,400,560,600,620,610,640,350,830]],
 [S,[600,100,660,75,640,110,670,120,620,150,580,120,530,130,560,170,590,190,640,190,680,170,690,230,660,310,540,260,600,250,240,730,250,868,665,215,490,340,630,200,600,170]],
 [C,[354,190,380,265,354,292,356,322,395,415,440,430,470,450,440,480,500,480,420,510,500,520,540,530,470,570,440,570,530,560,580,550,600,570,627,545,600,590,640,760,690,740,670,830,615,835,660,790,470,600,490,630]],
 [K,[306,243,390,495,420,495,520,500,480,540,550,590,430,600,400,610,360,650,430,670,520,680,560,660,450,700,330,700,390,740,300,760,310,800,360,800,420,790,440,740,300,830,360,850,320,890,340,880,340,910,350,860,390,830,570,800,500,730]],
 [B,[360,352,435,148,395,186,480,295,630,288,605,320,450,210,495,217,470,240,545,480,565,490,530,560,445,548,390,520,400,600,340,630,470,630,560,600,600,620,520,600,395,660,630,685,480,690,440,730,450,790,400,740,570,730,520,770,505,820,453,848,452,878,295,888,510,750,540,780]],
 [R,[453,104,570,210,520,262,430,420,425,440,350,532,315,568,370,575,390,570,440,590,400,590,650,435,690,437,595,510,580,590,470,660,420,630,360,650,290,590,220,660,260,690,330,740,330,780,380,690,430,740,480,770,440,780,385,810,340,850,370,895,344,905,668,783,520,640]],
 [O,[558,78,318,295,620,522,645,665,480,550,360,690,400,700,440,680,510,750,460,760,420,800,400,820,430,852,370,800,500,800,530,760,580,770,600,680,540,680,470,720]],
];
const of150DotsB = [
 [G,[420,270,440,300,470,320,400,350,460,370,380,400,520,380,590,370,560,410,600,400,500,160,530,190,400,170,380,180,370,230,400,200,440,160]],
 [Y,[500,280,530,310,570,330,620,370,660,340,700,400,600,440,520,440,470,430,450,280,480,210,420,240,380,210,540,240,440,520,400,530,380,520]],
 [L,[430,180,470,180,510,220,560,260,600,320,640,380,680,320,720,340,660,440,560,390,500,330,470,290,420,380,400,440,440,390,470,470,520,460,570,490,610,530,380,470]],
 [N,[500,200,530,240,590,240,640,260,680,300,650,330,610,340,570,420,530,400,480,420,430,330,470,220,430,220,400,250,600,540,600,440,640,440]],
 [S,[620,90,640,80,600,130,620,180,650,170,670,100,590,160,540,170,510,150,580,200,640,230,620,230]],
 [C,[470,500,510,500,530,490,560,510,580,520,490,550,450,530,500,590,540,600,580,600,610,610,660,770,680,800,640,800]],
 [K,[350,630,380,640,420,640,470,660,310,720,280,770,300,790,340,760,370,760,320,800,300,820,350,810,400,770,410,700,520,640,550,630]],
 [B,[500,570,520,580,560,620,600,640,480,700,520,720,560,700,610,690,450,770,470,780,500,790,540,820,570,840,530,860,500,830,550,870,480,810,580,800,430,620,380,660]],
 [R,[350,560,300,600,270,620,260,640,230,650,270,660,310,640,340,660,390,650,420,690,370,720,330,680,320,720,290,710,250,710,370,600,410,560,320,610,280,690,300,650]],
 [O,[440,760,470,750,500,770,560,720,590,700,610,720,640,720,650,710,620,740,570,690,520,700,410,780,400,800]],
];
const of200Blobs = [
 [L,[430,140,520,120,600,100,660,62,705,80,680,180,650,240,760,290,785,330,740,430,650,500,620,560,650,600,520,560,400,510,400,440,400,350,450,280,380,250,330,235,370,190]],
 [S,[600,100,660,62,705,80,680,170,620,170]],
 [N,[540,300,700,280,770,340,730,440,620,500,560,420]],
 [G,[410,330,450,330,430,370,405,370]],
 [K,[230,680,350,560,640,600,690,610,650,660,695,750,620,800,610,890,580,910,520,870,460,830,400,880,370,940,320,910,290,750]],
 [C,[510,460,570,470,600,540,640,590,680,580,690,610,650,640,560,560]],
 [K,[320,640,400,640,430,720,420,800,400,880,370,940,320,910,320,840,290,750]],
 [R,[230,680,280,620,330,600,370,690,330,720,280,700,240,700]],
 [B,[470,770,540,750,620,820,620,880,580,910,530,870,490,840]],
 [B,[540,670,600,660,590,710,540,710]],
 [O,[610,710,660,700,695,750,660,780,610,760]],
];
const of200Dots = [
 [G,[720,248,415,400,420,340,430,350,400,360,460,320,500,390,580,380,600,410,650,430,540,300,620,310,400,430,400,490,380,530,430,470,460,470,490,500,390,500,660,320,550,280,490,240,460,160,510,200,380,205,540,190]],
 [Y,[336,235,345,235,440,300,480,290,560,290,600,340,640,300,680,310,710,390,700,430,660,470,560,380,520,360,430,420,420,440,440,280,360,240,410,470,390,480,380,560,620,410,575,240,518,907]],
 [L,[440,130,415,150,380,210,450,200,530,170,500,240,490,300,560,320,610,280,680,280,730,300,760,350,720,390,640,400,600,450,560,470,520,510,450,340,440,400,470,420,510,450,620,480,650,460,420,480,510,270,270,750,250,733,232,562,345,570]],
 [N,[445,128,475,135,400,170,430,190,480,160,560,220,590,250,540,340,620,350,680,360,740,335,740,467,700,370,580,440,600,480,500,420,440,410,510,510,530,480,590,520,640,430,680,420,420,230,500,190,375,858,410,800,380,770]],
 [S,[610,80,660,70,690,75,705,108,620,130,570,120,640,150,600,170,680,180,690,200,660,220,520,150,560,190,640,210,460,250,600,230,720,310,770,300,750,320,240,560,490,450]],
 [C,[380,205,420,240,400,250,540,490,500,470,560,510,580,530,520,530,570,560,640,560,690,580,660,610,680,600,650,660,600,590,540,460,440,420,630,640,430,570,470,540,510,540,480,580,380,590,700,330,760,370,630,600]],
 [K,[440,395,520,390,420,520,430,620,390,660,360,690,350,760,380,740,320,770,340,780,420,760,460,720,310,820,350,830,430,810,400,800,330,860,370,870,320,910,470,867,440,905,457,885,500,640,540,620,358,542,430,575,420,700]],
 [B,[695,120,425,192,470,210,560,240,600,190,630,290,605,320,715,330,770,320,480,400,600,470,605,535,400,525,410,590,450,600,380,640,340,650,310,650,430,640,490,630,520,670,560,660,570,690,600,660,625,640,520,710,490,680,440,905,500,895,600,850,580,880,550,830,620,830,530,790,500,790,560,770,480,780,450,720,380,700,320,810,640,760,600,720]],
 [R,[336,208,547,126,505,235,555,280,595,205,690,380,460,355,520,450,420,540,350,570,380,580,340,600,265,625,290,650,240,660,310,680,360,620,400,640,300,720,340,730,380,760,300,770,340,800,395,845,425,840,510,570,685,625,440,770,380,610,420,670,465,700,360,810]],
 [O,[430,460,390,470,500,380,520,410,585,590,630,620,640,710,660,720,680,750,670,770,630,770,610,740,580,750,560,790,520,740,500,820,430,790,470,770,410,790,600,800,590,760,300,750,520,830,555,640,430,650]],
];
const of200DotsB = [
 [G,[440,240,470,230,430,290,500,300,530,330,590,340,610,390,650,390,700,350,420,380,440,360,470,390,520,310,580,270,640,250,400,450,430,440]],
 [Y,[520,270,480,320,570,350,620,380,650,340,700,310,740,360,670,400,560,410,600,390,520,400,470,440,430,500,400,510,460,300,410,240,360,220,500,200,580,180]],
 [L,[460,180,500,170,530,210,570,260,620,270,660,300,700,410,690,440,650,470,610,450,560,440,520,480,470,490,440,440,460,400,480,350,510,330,530,380,590,300,640,340,740,310]],
 [N,[410,200,450,220,490,200,520,230,470,280,510,290,600,300,640,280,680,330,720,350,740,400,590,400,540,420,480,450,430,520,560,350,500,430]],
 [S,[620,100,640,90,680,120,660,160,600,140,650,130,590,130,610,200,530,130,550,170,670,200,710,290,770,330]],
 [C,[520,490,550,500,590,550,610,560,660,590,620,590,530,560,490,530,460,560,500,580,660,630,640,650,590,610,580,590]],
 [K,[400,560,420,590,460,620,360,660,370,720,330,700,400,700,350,730,330,750,380,790,340,820,380,820,350,880,390,850,420,830,360,900,340,920,400,610,470,640]],
 [B,[440,560,400,600,470,600,500,620,550,640,590,640,560,690,590,720,520,760,490,770,470,800,510,850,540,880,590,890,610,860,500,770,560,810,580,830,550,750,510,800,470,740,440,680,410,620,470,660]],
 [R,[410,550,350,590,330,620,300,640,270,640,250,690,270,700,310,700,350,700,340,650,380,640,420,620,330,770,350,790,380,720,400,680,520,570,480,600,440,700,300,740,320,690]],
 [O,[640,720,650,740,670,730,660,760,620,720,640,770,600,780,560,730,540,780,500,780,450,780,470,820,420,800,480,710,400,760,570,620]],
];

const panels = [
 [[wf10Blobs,wf10Dots,wf10DotsB],[wf50Blobs,wf50Dots,wf50DotsB],[wf100Blobs,wf100Dots,wf100DotsB],[wf150Blobs,wf150Dots,wf150DotsB],[wf200Blobs,wf200Dots,wf200DotsB]],
 [[of10Blobs,of10Dots,of10DotsB],[of50Blobs,of50Dots,of50DotsB],[of100Blobs,of100Dots,of100DotsB],[of150Blobs,of150Dots,of150DotsB],[of200Blobs,of200Dots,of200DotsB]],
] as any;

const pairs = (a: number[]) => d3.range(0, a.length, 2).map((i) => [a[i], a[i + 1]] as [number, number]);
const PANEL = 327;
const FONT = "Inter, 'Noto Sans', sans-serif";

function Panel({ left, top, blobs, dots, dotsB, label, right }: any) {
  const x = d3.scaleLinear().domain([0, 981]).range([left, left + PANEL]);
  const y = d3.scaleLinear().domain([0, 981]).range([top, top + PANEL]);
  const outline = d3.line<[number, number]>().x((p) => x(p[0])).y((p) => y(p[1])).curve(d3.curveCatmullRomClosed.alpha(0.5));
  const mixed = [...dots, ...dotsB];
  return (
    <g>
      <rect x={left + 1.75} y={top + 1.75} width={PANEL - 3.5} height={PANEL - 3.5} rx={11} fill="#fff" stroke="#e6e6e6" strokeWidth={3.5} />
      {blobs.map(([c, pts]: any, i: number) => (
        <path key={i} d={outline(pairs(pts)) as string} fill={classColors[c]} stroke={classColors[c]} strokeWidth={6.4} strokeLinecap="round" strokeDasharray="0 5" />
      ))}
      {mixed.map(([c, pts]: any, i: number) =>
        pairs(pts).map((p, j) => <circle key={i + "-" + j} cx={x(p[0])} cy={y(p[1])} r={3.5} fill={classColors[c]} />)
      )}
      {label ? (
        <text x={left + right} y={top + 316} textAnchor="end" fontFamily={FONT} fontSize={40} fill="#666">{label}</text>
      ) : null}
    </g>
  );
}

function Arrow({ from, tip, cy }: any) {
  const ax = d3.scaleLinear().domain([0, 1]).range([from, tip]);
  const head = tip - 24;
  const h = d3.scaleLinear().domain([-1, 1]).range([cy - 22, cy + 22]);
  const s = d3.line<[number, number]>()([
    [ax(0), h(-0.43)], [head, h(-0.43)], [head, h(-1)], [tip, h(0)], [head, h(1)], [head, h(0.43)], [ax(0), h(0.43)],
  ]);
  return <path d={(s as string) + "Z"} fill="#d9d9d9" />;
}

export default function App() {
  return (
    <svg width={1832} height={784} style={{ position: "absolute", left: 0, top: 0, display: "block" }}>
      <rect width={1832} height={784} fill="#fff" />
      {rowTitles.map((t, i) => (
        <text key={t} x={4} y={i === 0 ? 43 : 448} fontFamily={FONT} fontWeight={700} fontSize={44} fill="#4d4d4d">{t}</text>
      ))}
      {rowLefts.map((lefts, r) =>
        lefts.map((l, i) => (
          <Panel key={r + "-" + i} left={l} top={rowTops[r]} blobs={panels[r][i][0]} dots={panels[r][i][1]} dotsB={panels[r][i][2]}
            label={(r === 0 ? wellFitLabels : overfitLabels)[i]} right={labelRight[i]} />
        ))
      )}
      {arrowStarts.map((st, r) =>
        st.map((s, i) => <Arrow key={r + "a" + i} from={s} tip={arrowTips[r][i]} cy={rowTops[r] + 170} />)
      )}
    </svg>
  );
}
